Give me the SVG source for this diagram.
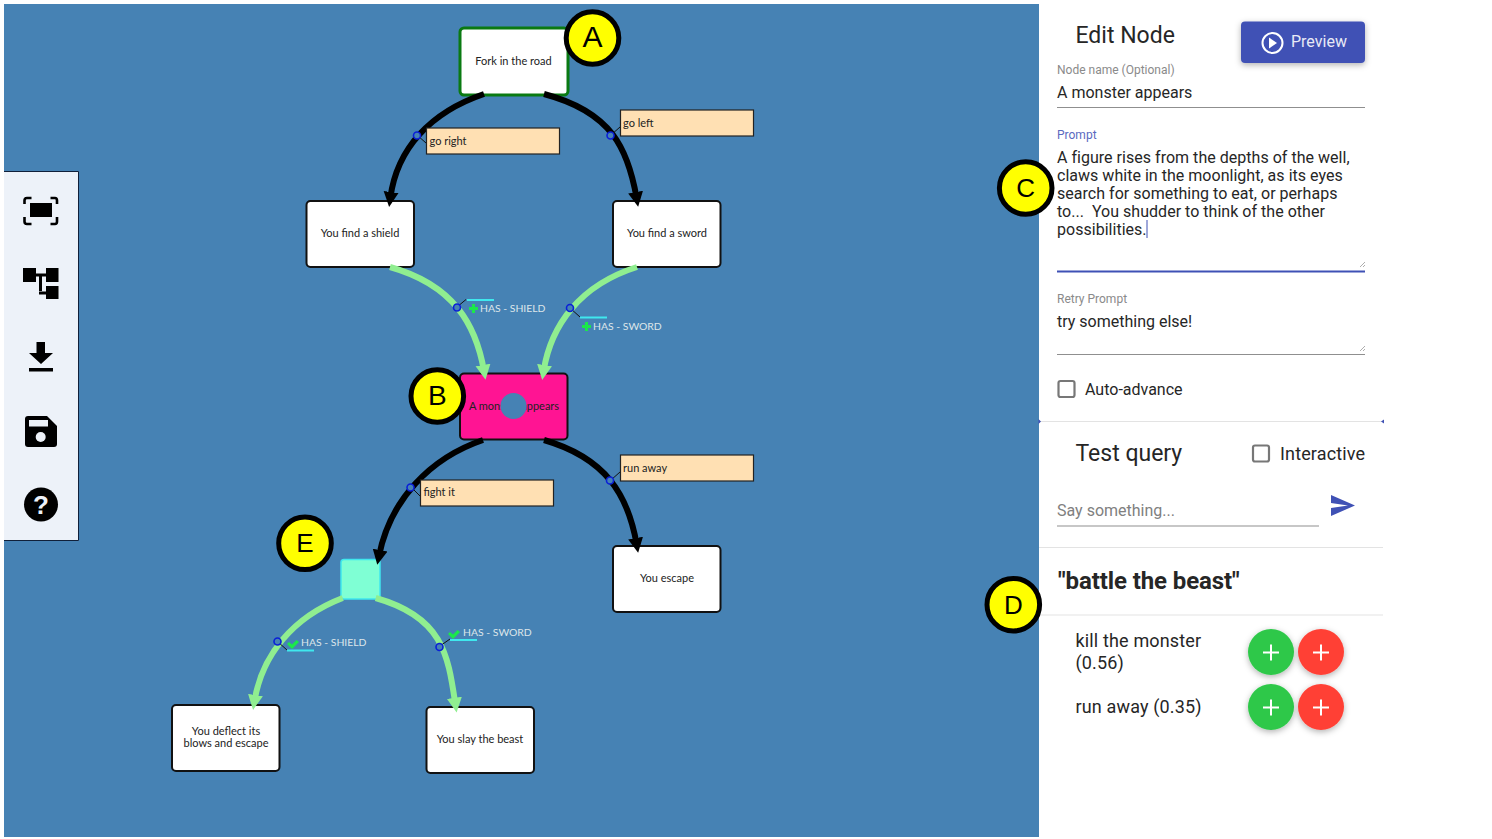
<svg xmlns="http://www.w3.org/2000/svg" width="1492" height="839" viewBox="0 0 1492 839">
<style>
.n{fill:#fff;stroke:#111;stroke-width:2}
.nt{font:11px Lato,sans-serif;fill:#222;text-anchor:middle}
.b{fill:none;stroke:#000;stroke-width:6;marker-end:url(#ab)}
.g{fill:none;stroke:#90ee90;stroke-width:6;marker-end:url(#ag)}
.h{fill:#4682b4;stroke:#0a1fd8;stroke-width:1.6}
.l{stroke:#111;stroke-width:1;fill:none}
.tag{fill:#ffe0b3;stroke:#222;stroke-width:1.2}
.tt{font:11px Lato,sans-serif;fill:#222}
.ct{font:10.400px Lato,sans-serif;fill:#dde6ea}
.u{stroke:#3fe8ee;stroke-width:2}
.cir{fill:#ff0;stroke:#000;stroke-width:5}
.cl{font-family:"Liberation Sans",sans-serif;fill:#000;text-anchor:middle}
.r{font-family:Roboto,sans-serif;fill:#262626}
.ls{letter-spacing:.15px}
.lab{font:12px Roboto,sans-serif;fill:#8a8a8a}
.ln{stroke:#8f8f8f;stroke-width:1.2}
.div{stroke:#e3e3e3;stroke-width:1.2}
.cb{fill:none;stroke:#777;stroke-width:2.200}
.pl{stroke:#fff;stroke-width:2}
.ta{letter-spacing:.025px}
</style>
<defs>
<marker id="ab" markerUnits="userSpaceOnUse" markerWidth="20" markerHeight="20" refX="6" refY="10" orient="auto"><path d="M0 2.500L15 10L0 17.500z" fill="#000"/></marker>
<marker id="ag" markerUnits="userSpaceOnUse" markerWidth="20" markerHeight="20" refX="6" refY="10" orient="auto"><path d="M0 2.500L15 10L0 17.500z" fill="#90ee90"/></marker>
<filter id="sh" x="-30%" y="-30%" width="160%" height="170%"><feDropShadow dx="0" dy="2" stdDeviation="3" flood-color="#000" flood-opacity=".3"/></filter>
</defs>
<rect width="1492" height="839" fill="#fff"/>
<rect x="4" y="4" width="1035" height="833" fill="#4682b4"/>
<g id="toolbar">
<rect x="4" y="171.500" width="74.500" height="369" fill="#edf2f9"/>
<path d="M4 171.500H78.500V540.500H4" fill="none" stroke="#10203a" stroke-width="1"/>
<path d="M30 203h22v14h-22z" fill="#000"/>
<path d="M24.500 204v-3.500q0-2.500 2.500-2.500h4.500M50.500 198h4.500q2 0 2 2.500v3.500M57 217v4.500q0 2.500-2 2.500h-4.500M31.500 224h-4.500q-2.500 0-2.500-2.500v-4.500" fill="none" stroke="#000" stroke-width="2.600"/>
<path d="M23 268h13v14h-13zM46 268h12.500v14h-12.500zM46 286h12.500v13h-12.500zM36 273.500h10v3h-10zM39 276h3v15h-3zM39 291.500h7v3h-7z" fill="#000"/>
<path d="M36.500 342h8.500v11h8l-12 11-12-11h7.500zM29 368h24v3.500h-24z" fill="#000"/>
<path d="M28 416h19l10 10v18q0 3-3 3H28q-3 0-3-3V419q0-3 3-3z" fill="#000"/>
<rect x="29" y="420" width="19" height="6.500" fill="#edf2f9"/><circle cx="40.700" cy="437" r="5" fill="#edf2f9"/>
<circle cx="41" cy="504.500" r="17" fill="#000"/>
<text x="41" y="514" font-family="Liberation Sans,sans-serif" font-weight="bold" font-size="26" fill="#edf2f9" text-anchor="middle">?</text>
</g>
<g id="node-fork"><rect x="460" y="28" width="108" height="67" rx="4" fill="#fff" stroke="#0a7a12" stroke-width="3"/><text class="nt" x="513.500" y="65">Fork in the road</text></g>
<g id="node-shield"><rect class="n" x="306.500" y="201" width="107.500" height="66" rx="4"/><text class="nt" x="360" y="237">You find a shield</text></g>
<g id="node-sword"><rect class="n" x="613" y="201" width="107.500" height="66" rx="4"/><text class="nt" x="667" y="237">You find a sword</text></g>
<g id="node-monster"><rect x="460" y="373.500" width="107.500" height="66" rx="4" fill="#ff1493" stroke="#111" stroke-width="2"/><text class="nt" x="514" y="410">A monster appears</text><circle cx="513.500" cy="406" r="13" fill="#4682b4"/></g>
<g id="node-escape"><rect class="n" x="613" y="546" width="107.500" height="66" rx="4"/><text class="nt" x="667" y="582">You escape</text></g>
<g id="node-choice"><rect x="341" y="559.500" width="39" height="39.500" rx="3" fill="#7fffd4" stroke="#3fe8ee" stroke-width="1.500"/></g>
<g id="node-deflect"><rect class="n" x="172" y="705" width="107.500" height="66" rx="4"/><text class="nt"><tspan x="226" y="735">You deflect its</tspan><tspan x="226" y="747">blows and escape</tspan></text></g>
<g id="node-slay"><rect class="n" x="426.500" y="707" width="107.500" height="66" rx="4"/><text class="nt" x="480" y="743">You slay the beast</text></g>
<g id="connectors">
<path class="b" d="M484 94C431 112 397 148 390.300 198"/>
<path class="b" d="M544 94C612 112 628 149 636.600 198"/>
<path class="b" d="M483 440C430 458 390 500 379 556"/>
<path class="b" d="M544 440C606 458 628 495 636.600 544"/>
<path class="g" d="M390 267C454 285 476 325 484 371"/>
<path class="g" d="M637 267C580 285 551 325 543.600 371"/>
<path class="g" d="M342.700 598C293 617 262 655 254.500 701"/>
<path class="g" d="M375.700 598C443 617 448 655 455.300 703.700"/>
<g id="edge-labels">
<path class="l" d="M417 135l9 8"/><circle class="h" cx="417" cy="135.500" r="3.500"/><rect class="tag" x="426.500" y="128" width="133" height="26"/><text class="tt" x="429.500" y="145">go right</text>
<path class="l" d="M611 135l9-8"/><circle class="h" cx="610.500" cy="135.500" r="3.500"/><rect class="tag" x="620.500" y="110" width="133" height="26"/><text class="tt" x="623" y="127">go left</text>
<path class="l" d="M411 487l10 10"/><circle class="h" cx="410.500" cy="487.500" r="3.500"/><rect class="tag" x="420.500" y="480" width="133" height="26"/><text class="tt" x="423.500" y="496">fight it</text>
<path class="l" d="M611 480l9-8"/><circle class="h" cx="610" cy="480.500" r="3.500"/><rect class="tag" x="620.500" y="455" width="133" height="26"/><text class="tt" x="623" y="472">run away</text>
<path class="l" d="M457 307l9-7.500"/><circle class="h" cx="457" cy="307.500" r="3.500"/><path class="u" d="M467 300h27"/><path d="M472 304h3v3h3v3h-3v3h-3v-3h-3v-3h3z" fill="#1ae84a"/><text class="ct" x="480" y="312">HAS - SHIELD</text>
<path class="l" d="M570 308l10 9"/><circle class="h" cx="570" cy="308" r="3.500"/><path class="u" d="M580 317.500h27"/><path d="M585 322h3v3h3v3h-3v3h-3v-3h-3v-3h3z" fill="#1ae84a"/><text class="ct" x="593" y="330">HAS - SWORD</text>
<path class="l" d="M278 642l9 8"/><circle class="h" cx="277.500" cy="641.500" r="3.500"/><path class="u" d="M287 650.500h27"/><path d="M289 642l3 2.500 4.500-4.500 2.500 2-7 7-5-5z" fill="#1ae84a"/><text class="ct" x="301" y="646">HAS - SHIELD</text>
<path class="l" d="M440 646l10-7"/><circle class="h" cx="439.500" cy="647" r="3.500"/><path class="u" d="M450 640h27"/><path d="M450 632l3 2.500 4.500-4.500 2.500 2-7 7-5-5z" fill="#1ae84a"/><text class="ct" x="463" y="636">HAS - SWORD</text>
</g>
</g>
<g id="panel">
<rect x="1039" y="4" width="344" height="833" fill="#fff"/>
<text class="r" x="1075.500" y="43" font-size="23">Edit Node</text>
<g id="preview"><rect x="1241" y="21.500" width="124" height="41.500" rx="4" fill="#3f51b5" filter="url(#sh)"/><circle cx="1272.500" cy="43" r="10" fill="none" stroke="#fff" stroke-width="2"/><path d="M1269 37.500l8 5.500-8 5.500z" fill="#fff"/><text x="1291" y="47" font-family="Roboto,sans-serif" font-size="16" fill="#e8eaf6">Preview</text></g>
<text class="lab" x="1057" y="74">Node name (Optional)</text>
<text class="r" x="1057" y="98" font-size="16">A monster appears</text>
<path class="ln" d="M1057 107.500h308"/>
<text x="1057" y="139" font-family="Roboto,sans-serif" font-size="12" fill="#5a6abf">Prompt</text>
<g class="r ta" font-size="16"><text x="1057" y="163">A figure rises from the depths of the well,</text><text x="1057" y="181">claws white in the moonlight, as its eyes</text><text x="1057" y="199">search for something to eat, or perhaps</text><text x="1057" y="217" xml:space="preserve">to...  You shudder to think of the other</text><text x="1057" y="235">possibilities.</text></g>
<path d="M1147 220v18" stroke="#3f51b5" stroke-width="1"/>
<path d="M1360 267l5-5M1363 267l2-2" stroke="#999" stroke-width="0.800"/>
<path d="M1057 271.500h308" stroke="#3f51b5" stroke-width="2"/>
<text class="lab" x="1057" y="303">Retry Prompt</text>
<text class="r" x="1057" y="327" font-size="16">try something else!</text>
<path d="M1360 351l5-5M1363 351l2-2" stroke="#999" stroke-width="0.800"/>
<path class="ln" d="M1057 354.500h308"/>
<rect class="cb" x="1058.500" y="381" width="16" height="16" rx="2"/>
<text class="r" x="1085" y="395" font-size="16">Auto-advance</text>
<path class="div" d="M1040 421.500h343"/>
<path d="M1038.500 419v5l2.500-2.500zM1384 419.500v4l-3-2z" fill="#3f51b5"/>
<text class="r" x="1075.500" y="461" font-size="23">Test query</text>
<rect class="cb" x="1253" y="445.500" width="16" height="16" rx="2"/>
<text class="r ls" x="1280" y="460" font-size="18">Interactive</text>
<text x="1057" y="516" font-family="Roboto,sans-serif" font-size="16" fill="#808080">Say something...</text>
<path class="ln" d="M1057 526h262" stroke-width="1.500"/>
<path d="M1331 495l24 10.500-24 10.500v-8l17-2.500-17-2.500z" fill="#3f51b5"/>
<path class="div" d="M1039 547.500h344M1039 615h344"/>
<text class="r" x="1058" y="588.500" font-size="24" font-weight="bold" letter-spacing="-.1">"battle the beast"</text>
<text class="r ls" x="1075.500" y="647" font-size="18">kill the monster</text>
<text class="r ls" x="1075.500" y="669" font-size="18">(0.56)</text>
<text class="r ls" x="1075.500" y="713" font-size="18">run away (0.35)</text>
<g id="buttons">
<circle cx="1271" cy="652" r="23" fill="#2ec84a" filter="url(#sh)"/><circle cx="1321" cy="652" r="23" fill="#ff4136" filter="url(#sh)"/>
<circle cx="1271" cy="707" r="23" fill="#2ec84a" filter="url(#sh)"/><circle cx="1321" cy="707" r="23" fill="#ff4136" filter="url(#sh)"/>
<path class="pl" d="M1263 652.500h16M1271 644.500v16M1313 652.500h16M1321 644.500v16M1263 707.500h16M1271 699.500v16M1313 707.500h16M1321 699.500v16"/>
</g>
</g>
<g id="callouts">
<circle class="cir" cx="592.500" cy="38" r="26.300"/><text class="cl" font-size="30" x="592.500" y="47">A</text>
<circle class="cir" cx="437.300" cy="396" r="26.300"/><text class="cl" font-size="28" x="437.300" y="405">B</text>
<circle class="cir" cx="1025.700" cy="188" r="26.300"/><text class="cl" font-size="26" x="1025.700" y="197">C</text>
<circle class="cir" cx="1013.300" cy="604.700" r="26.300"/><text class="cl" font-size="26" x="1013.300" y="613.500">D</text>
<circle class="cir" cx="305" cy="543.300" r="26.300"/><text class="cl" font-size="26" x="305" y="552">E</text>
</g>
</svg>
